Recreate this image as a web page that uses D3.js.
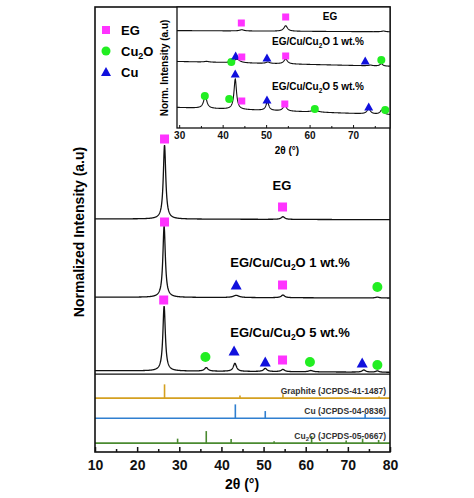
<!DOCTYPE html>
<html><head><meta charset="utf-8">
<script src="https://cdn.jsdelivr.net/npm/d3@7"></script>
<style>body{margin:0;background:#fff}text{font-family:"Liberation Sans",Arial,sans-serif;font-weight:bold}</style>
</head><body><svg id="c" width="474" height="498"></svg>
<script>
// peaks: [2theta, height, width]; traces stacked by baseline offset (left, right)
const mainTraces = [
  {label: "EG", base: [52.4, 52.2], peaks: [[26.5, 16.6, 0.35], [54.6, 0.6, 0.5]]},
  {label: "1", base: [34.8, 34.6], peaks: [[26.4, 16.0, 0.35], [43.5, 0.5, 0.8], [54.6, 0.6, 0.5], [77.0, 0.2, 0.5]]},
  {label: "5", base: [18.3, 17.9], peaks: [[26.4, 14.6, 0.35], [36.4, 0.8, 0.5], [43.2, 1.8, 0.45], [50.4, 0.7, 0.5], [54.6, 0.5, 0.5], [61.2, 0.3, 0.6], [73.8, 0.5, 0.5], [77.0, 0.3, 0.5]]}
];
const mainLabels = [[282, 190, "EG", null], [290, 267, "EG/Cu/Cu", " 1 wt.%"], [290, 337, "EG/Cu/Cu", " 5 wt.%"]];
const mainMarkers = [
  ["sq", 26.5, 139], ["sq", 54.5, 207],
  ["sq", 26.5, 222], ["tri", 43.5, 285], ["sq", 54.5, 285], ["ci", 77, 287],
  ["sq", 26.3, 300], ["ci", 36.2, 357], ["tri", 43, 351], ["tri", 50.4, 362], ["sq", 54.5, 360], ["ci", 61, 362], ["tri", 73.4, 363], ["ci", 77, 365]
];
const refs = [
  {name: "Graphite (JCPDS-41-1487)", color: "#d4a020", base: 12.1, sticks: [[26.5, 3.1], [44.4, 0.6], [54.6, 0.9], [77.4, 0.4]]},
  {name: "Cu (JCPDS-04-0836)", color: "#2f7fd0", base: 7.6, sticks: [[43.3, 3.1], [50.4, 1.6], [74.1, 1.0]]},
  {name: "Cu2O (JCPDS-05-0667)", color: "#4a8a30", base: 2.0, sticks: [[29.6, 1.0], [36.4, 2.7], [42.3, 0.9], [52.5, 0.4], [61.4, 1.6], [69.6, 0.6], [73.5, 1.0], [77.3, 0.7]]}
];
const insetTraces = [
  {base: [80.5, 79.5], peaks: [[44.4, 1.0, 0.6], [54.5, 4.5, 0.5], [77, 0.6, 0.5]]},
  {base: [55, 51], peaks: [[36.3, 0.6, 0.6], [43.3, 3.0, 0.8], [50.4, 1.2, 0.5], [54.5, 4.0, 0.5], [74, 0.6, 0.5], [76.5, 2.0, 0.4]]},
  {base: [17, 11], peaks: [[36.0, 10, 0.45], [42.9, 25, 0.35], [50.3, 7, 0.4], [54.3, 5, 0.45], [61.2, 2.0, 0.7], [73.6, 4.5, 0.45], [76.6, 3.5, 0.45]]}
];
const insetLabels = [[330, 20, "EG", null], [318, 45, "EG/Cu/Cu", " 1 wt.%"], [318, 90, "EG/Cu/Cu", " 5 wt.%"]];
const insetMarkers = [
  ["sq", 44.3, 23], ["sq", 54.5, 17],
  ["ci", 42.0, 62], ["tri", 43, 56], ["sq", 44.4, 57], ["tri", 50.2, 58], ["sq", 54.5, 56], ["tri", 72.8, 61], ["ci", 76.5, 60],
  ["ci", 35.9, 96], ["ci", 41.5, 99], ["tri", 42.9, 74], ["sq", 44.4, 101], ["tri", 50.2, 100], ["sq", 54.3, 104], ["ci", 61.2, 109], ["tri", 73.6, 107], ["ci", 77.4, 110]
];
const legend = [["sq", "EG", null], ["ci", "Cu", "2", "O"], ["tri", "Cu", null]];

const svg = d3.select("#c");
const x = d3.scaleLinear().domain([10, 80]).range([95, 390]);
const y = d3.scaleLinear().domain([0, 100]).range([452, 7]);
const xi = d3.scaleLinear().domain([29.5, 78.5]).range([177, 390]);
const yi = d3.scaleLinear().domain([0, 100]).range([128, 7]);

function curve(t, lo, hi) {
  const pts = d3.range(lo, hi + 0.001, 0.05).map(a => {
    let v = t.base[0] + (t.base[1] - t.base[0]) * (a - lo) / (hi - lo);
    t.peaks.forEach(([c, h, w]) => { v += h / (1 + ((a - c) / w) ** 2); });
    return [a, v];
  });
  return pts;
}
const colors = {sq: "#ff33ff", ci: "#22ee22", tri: "#1010dd"};
function marker(g, type, px, py, s) {
  if (type === "sq") g.append("rect").attr("x", px - s / 2).attr("y", py - s / 2).attr("width", s).attr("height", s).attr("fill", colors.sq);
  else if (type === "ci") g.append("circle").attr("cx", px).attr("cy", py).attr("r", s / 2 + 0.5).attr("fill", colors.ci);
  else g.append("path").attr("d", `M${px},${py - s / 2 - 1}L${px + s / 2 + 1},${py + s / 2}L${px - s / 2 - 1},${py + s / 2}Z`).attr("fill", colors.tri);
}
function label(g, px, py, a, b, size) {
  const t = g.append("text").attr("x", px).attr("y", py).attr("text-anchor", "middle").attr("font-size", size);
  t.append("tspan").text(a);
  if (b) { t.append("tspan").attr("font-size", size * 0.65).attr("dy", 3).text("2"); t.append("tspan").attr("dy", -3).text("O" + b); }
}

// main traces
const line = d3.line().x(d => x(d[0])).y(d => y(d[1]));
mainTraces.forEach(t => svg.append("path").attr("d", line(curve(t, 10, 80))).attr("fill", "none").attr("stroke", "#111").attr("stroke-width", 1.3));
mainLabels.forEach(l => label(svg, l[0], l[1], l[2], l[3], 13));
mainMarkers.forEach(m => marker(svg, m[0], x(m[1]), m[2], 9));

// reference sticks
svg.append("line").attr("x1", 95).attr("x2", 390).attr("y1", y(17.5)).attr("y2", y(17.5)).attr("stroke", "#111").attr("stroke-width", 1.3);
refs.forEach(r => {
  svg.append("line").attr("x1", 95).attr("x2", 390).attr("y1", y(r.base)).attr("y2", y(r.base)).attr("stroke", r.color).attr("stroke-width", 1.6);
  r.sticks.forEach(s => svg.append("line").attr("x1", x(s[0])).attr("x2", x(s[0])).attr("y1", y(r.base)).attr("y2", y(r.base + s[1])).attr("stroke", r.color).attr("stroke-width", 1.6));
  const t = svg.append("text").attr("x", 386).attr("y", y(r.base) - 4).attr("text-anchor", "end").attr("font-size", 8.5).attr("fill", "#333");
  if (r.name.startsWith("Cu2O")) { t.append("tspan").text("Cu"); t.append("tspan").attr("font-size", 6).attr("dy", 2).text("2"); t.append("tspan").attr("dy", -2).text("O (JCPDS-05-0667)"); }
  else t.text(r.name);
});

// main frame and axis
svg.append("rect").attr("x", 95).attr("y", 7).attr("width", 295).attr("height", 445).attr("fill", "none").attr("stroke", "#111").attr("stroke-width", 1.6);
const ax = svg.append("g").attr("transform", "translate(0,452)")
  .call(d3.axisBottom(x).tickValues(d3.range(10, 81, 10)).tickSize(-5).tickPadding(8).tickFormat(d3.format("d")));
svg.append("g").attr("transform", "translate(0,452)").call(d3.axisBottom(x).tickValues(d3.range(15, 80, 10)).tickSize(-3).tickFormat(""));
svg.selectAll(".domain").remove();
ax.selectAll("text").attr("font-size", 14).attr("fill", "#111");
svg.selectAll(".tick line").attr("stroke", "#111").attr("stroke-width", 1.5);
svg.append("text").attr("x", 242).attr("y", 489).attr("text-anchor", "middle").attr("font-size", 14).text("2θ (°)");
svg.append("text").attr("transform", "translate(84,232) rotate(-90)").attr("text-anchor", "middle").attr("font-size", 14).text("Normalized Intensity (a.u)");

// legend
legend.forEach((l, i) => {
  marker(svg, l[0], 106, 30 + i * 21, 8);
  const t = svg.append("text").attr("x", 121).attr("y", 35 + i * 21).attr("font-size", 13);
  t.append("tspan").text(l[1]);
  if (l[2]) { t.append("tspan").attr("font-size", 9).attr("dy", 3).text(l[2]); t.append("tspan").attr("dy", -3).text(l[3]); }
});

// inset
const gi = svg.append("g");
gi.append("rect").attr("x", 177).attr("y", 7).attr("width", 213).attr("height", 121).attr("fill", "#fff").attr("stroke", "#111").attr("stroke-width", 1.3);
const iline = d3.line().x(d => xi(d[0])).y(d => yi(d[1]));
insetTraces.forEach(t => gi.append("path").attr("d", iline(curve(t, 29.5, 78.5))).attr("fill", "none").attr("stroke", "#111").attr("stroke-width", 1.1));
insetLabels.forEach(l => label(gi, l[0], l[1], l[2], l[3], 10));
insetMarkers.forEach(m => marker(gi, m[0], xi(m[1]), m[2], 7));
const iax = gi.append("g").attr("transform", "translate(0,128)")
  .call(d3.axisBottom(xi).tickValues(d3.range(30, 71, 10)).tickSize(-3).tickPadding(4).tickFormat(d3.format("d")));
gi.append("g").attr("transform", "translate(0,128)").call(d3.axisBottom(xi).tickValues(d3.range(35, 78, 10)).tickSize(-2).tickFormat(""));
gi.selectAll(".domain").remove();
gi.selectAll(".tick line").attr("stroke", "#111");
iax.selectAll("text").attr("font-size", 10).attr("fill", "#111");
gi.append("text").attr("x", 287).attr("y", 154).attr("text-anchor", "middle").attr("font-size", 10).text("2θ (°)");
gi.append("text").attr("transform", "translate(168,68) rotate(-90)").attr("text-anchor", "middle").attr("font-size", 10).text("Norm. Intensity (a.u)");
</script></body></html>
